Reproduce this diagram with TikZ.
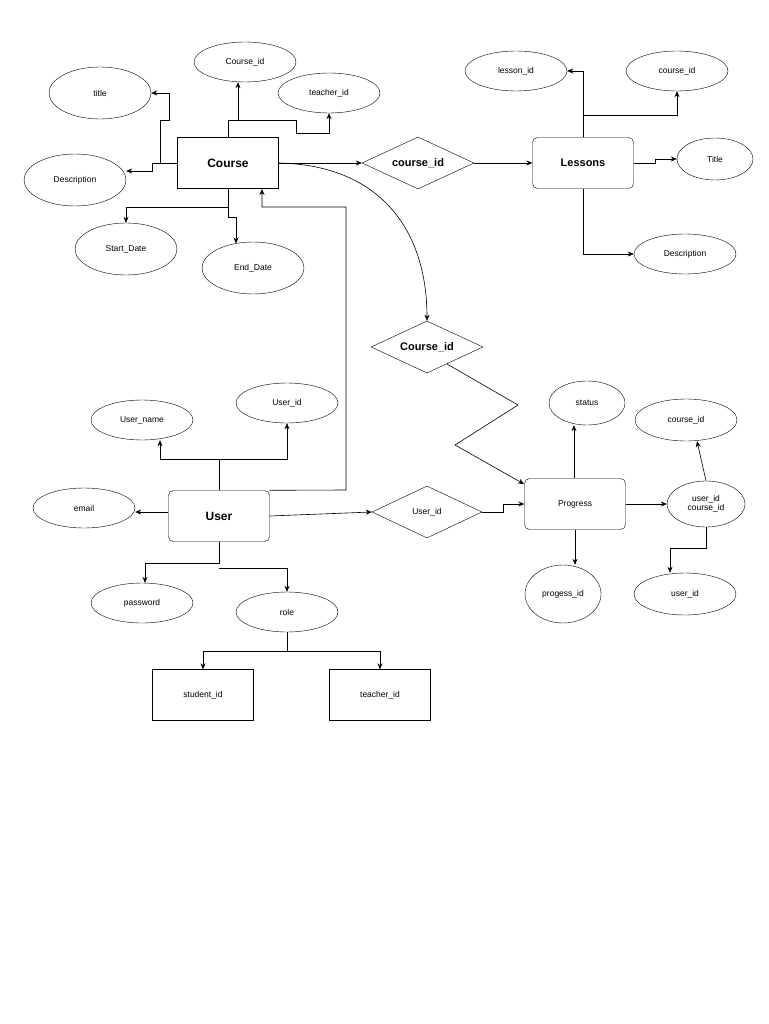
\documentclass[tikz,border=0pt]{standalone}
\usepackage{fontspec}
\setmainfont{Liberation Sans}
\usetikzlibrary{shapes.geometric,arrows.meta}
\begin{document}
\begin{tikzpicture}[x=1pt,y=-1pt,
  every node/.style={font=\fontsize{8.5}{10}\selectfont},
  att/.style={draw,ellipse,minimum width=102pt,minimum height=40pt,inner sep=0pt},
  ent/.style={draw,rectangle,minimum width=101pt,minimum height=51pt},
  rent/.style={draw,rectangle,rounded corners=5pt,minimum width=101pt,minimum height=51pt},
  rel/.style={draw,diamond,aspect=2.15,minimum width=112pt,minimum height=52pt,inner sep=0pt},
  ar/.style={-{Stealth[length=6pt,width=5pt]},line width=0.6pt},
  ln/.style={line width=0.6pt},
  bigb/.style={font=\fontsize{12}{14}\selectfont\bfseries},
  midb/.style={font=\fontsize{11}{13}\selectfont\bfseries}]
\useasboundingbox (0,0) rectangle (768,1024);
\fill[white] (0,0) rectangle (768,1024);
% nodes
\node[ent,bigb] (course) at (228,163) {Course};
\node[att] (cid) at (245,62) {Course\_id};
\node[att,minimum height=52pt] (title) at (100,93) {title};
\node[att] (tid) at (329,93) {teacher\_id};
\node[att,minimum height=52pt] (desc) at (75,180) {Description};
\node[att,minimum height=52pt] (sd) at (126,249) {Start\_Date};
\node[att,minimum height=52pt] (ed) at (253,268) {End\_Date};
\node[rel,midb] (rc) at (418,163) {course\_id};
\node[rent,midb] (les) at (583,163) {Lessons};
\node[att] (lid) at (516,71) {lesson\_id};
\node[att] (lcid) at (677,71) {course\_id};
\node[att,minimum width=76pt,minimum height=42pt] (ltitle) at (715,159) {Title};
\node[att] (ldesc) at (685,254) {Description};
\node[rel,midb] (rc2) at (427,347) {Course\_id};
\node[att,minimum width=76pt,minimum height=44pt] (status) at (587,403) {status};
\node[att,minimum height=42pt] (pcid) at (686,420) {course\_id};
\node[rent] (prog) at (575,504) {Progress};
\node[att,minimum width=78pt,minimum height=46pt,align=center,font=\fontsize{8.5}{9.5}\selectfont] (uc) at (706,504) {user\_id\\course\_id};
\node[att,minimum width=76pt,minimum height=58pt] (pid) at (563,594) {progess\_id};
\node[att,minimum height=42pt] (puid) at (685,594) {user\_id};
\node[rel,minimum width=110pt] (ru) at (427,512) {User\_id};
\node[rent,bigb] (user) at (219,516) {User};
\node[att] (uid) at (287,403) {User\_id};
\node[att] (uname) at (142,420) {User\_name};
\node[att] (email) at (84,508) {email};
\node[att] (pw) at (142,603) {password};
\node[att] (role) at (287,612) {role};
\node[ent] (sid) at (203,695) {student\_id};
\node[ent] (tid2) at (380,695) {teacher\_id};
% course attrs
\draw[ar] (course.north) -- (228,120) -- (238,120) -- (cid.south -| 238,0);
\draw[ar] (228,120) -- (296,120) -- (296,133) -- (329,133) -- (tid.south);
\draw[ar] (course.west) -- (160,163) -- (160,120) -- (169,120) -- (169,93) -- (title.east);
\draw[ar] (160,163) -- (152,163) -- (152,171) -- (desc.east |- 0,171);
\draw[ar] (course.south) -- (228,207) -- (126,207) -- (sd.north);
\draw[ar] (228,207) -- (228,217) -- (236,217) -- (236,243.5);
\draw[ar] (user.north east) -- (346,490) -- (346,207) -- (262,207) -- (262,189);
\draw[ar] (course.east) -- (rc.west);
\draw[ar] (rc.east) -- (les.west);
\draw[ar] (course.east) .. controls (380,165) and (427,230) .. (rc2.north);
% lessons
\draw[ar] (les.north) -- (583,71) -- (lid.east);
\draw[ar] (583,115) -- (677,115) -- (lcid.south);
\draw[ar] (les.east) -- (655,163) -- (655,159) -- (ltitle.west);
\draw[ar] (les.south) -- (583,254) -- (ldesc.west);
% progress
\draw[ar] (447,364) -- (518,405) -- (455,445) -- (524,484);
\draw[ar] (user.east) -- (ru.west);
\draw[ar] (ru.east) -- (503,512) -- (503,504) -- (prog.west);
\draw[ar] (prog.north -| 574,0) -- (status.south -| 574,0);
\draw[ar] (prog.south) -- (pid.north -| 575,0);
\draw[ar] (prog.east) -- (uc.west);
\draw[ar] (uc.north) -- (pcid.south -| 697,0);
\draw[ar] (uc.south) -- (706,548) -- (670,548) -- (puid.north -| 670,0);
% user
\draw[ar] (user.north) -- (219,459) -- (160,459) -- (uname.south -| 160,0);
\draw[ar] (219,459) -- (219,459) -- (287,459) -- (uid.south);
\draw[ar] (user.west |- 0,512) -- (email.east |- 0,512);
\draw[ar] (user.south) -- (219,563) -- (145,563) -- (pw.north -| 145,0);
\draw[ar] (219,568) -- (287,568) -- (role.north);
\draw[ar] (role.south) -- (287,651) -- (203,651) -- (sid.north);
\draw[ar] (287,651) -- (380,651) -- (tid2.north);
\end{tikzpicture}
\end{document}
